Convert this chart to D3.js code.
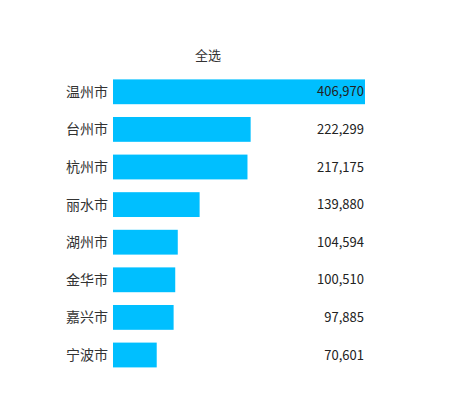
<!DOCTYPE html>
<html><head><meta charset="utf-8">
<script src="https://cdn.jsdelivr.net/npm/d3@7"></script>
<style>body{margin:0;background:#fff;}</style>
</head><body><div class="chart"></div>
<script>
const cities = ["温州市","台州市","杭州市","丽水市","湖州市","金华市","嘉兴市","宁波市"];
const values = [406970,222299,217175,139880,104594,100510,97885,70601];
const title = "全选";

const width = 474, height = 414;
const margin = {top: 73, left: 113, right: 109, bottom: 40};

const svg = d3.select('.chart').append('svg')
  .attr('width', width).attr('height', height)
  .style('font-family', '"Noto Sans CJK SC", sans-serif');

const xScale = d3.scaleLinear()
  .domain([0, d3.max(values)])
  .range([margin.left, width - margin.right]);

const yScale = d3.scaleBand()
  .domain(cities)
  .range([margin.top, margin.top + 37.6*cities.length])
  .paddingInner(0.34).paddingOuter(0.17);

svg.append('text')
  .attr('x', 208).attr('y', 60)
  .attr('text-anchor', 'middle')
  .attr('font-size', 13).attr('fill', '#333')
  .text(title);

const rows = svg.selectAll('.row').data(cities).enter().append('g');

rows.append('rect')
  .attr('x', xScale(0))
  .attr('y', d => yScale(d))
  .attr('height', yScale.bandwidth())
  .attr('width', (d, i) => xScale(values[i]) - xScale(0))
  .attr('fill', '#00bfff');

rows.append('text')
  .attr('x', margin.left - 5)
  .attr('y', d => yScale(d) + yScale.bandwidth()/2)
  .attr('dy', '0.35em')
  .attr('text-anchor', 'end')
  .attr('font-size', 14).attr('fill', '#333')
  .text(d => d);

rows.append('text')
  .attr('x', width - margin.right - 1)
  .attr('y', d => yScale(d) + yScale.bandwidth()/2)
  .attr('dy', '0.35em')
  .attr('text-anchor', 'end')
  .attr('font-size', 13).attr('fill', '#222')
  .text((d, i) => d3.format(',')(values[i]));
</script></body></html>
